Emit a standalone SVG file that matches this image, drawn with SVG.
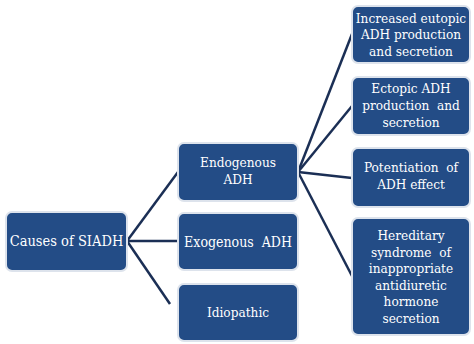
<svg xmlns="http://www.w3.org/2000/svg" width="474" height="344" viewBox="0 0 474 344">
<style>
.box{fill:#234c86;stroke:#dde3ec;stroke-width:2}
text{font-family:'DejaVu Serif Condensed','DejaVu Serif',serif;font-stretch:condensed;font-size:13.5px;fill:#ffffff;text-anchor:middle;dominant-baseline:central}
.big{font-size:14.5px}
.c{stroke:#1b2f55;stroke-width:2.5;fill:none}
</style>
<rect width="474" height="344" fill="#ffffff"/>
<g id="connectors">
<line class="c" x1="127" y1="241" x2="178" y2="172"/>
<line class="c" x1="127" y1="241" x2="178" y2="241"/>
<line class="c" x1="127" y1="241" x2="170" y2="304"/>
<line class="c" x1="298" y1="172" x2="352" y2="34"/>
<line class="c" x1="298" y1="172" x2="352" y2="106"/>
<line class="c" x1="298" y1="172" x2="352" y2="178"/>
<line class="c" x1="298" y1="172" x2="352" y2="276"/>
</g>
<g id="root">
<rect class="box" x="6" y="212" width="121" height="59" rx="6"/>
<text class="big" x="66.5" y="241">Causes of SIADH</text>
</g>
<g id="endogenous">
<rect class="box" x="178" y="143" width="120" height="58" rx="6"/>
<text x="238" y="162">Endogenous</text>
<text x="238" y="179">ADH</text>
</g>
<g id="exogenous">
<rect class="box" x="178" y="213" width="120" height="57" rx="6"/>
<text x="238" y="242" xml:space="preserve" style="font-size:14px">Exogenous  ADH</text>
</g>
<g id="idiopathic">
<rect class="box" x="178" y="284" width="120" height="57" rx="6"/>
<text x="238" y="312">Idiopathic</text>
</g>
<g id="eutopic">
<rect class="box" x="352" y="6" width="118" height="57" rx="6"/>
<text x="411" y="18">Increased eutopic</text>
<text x="411" y="34">ADH production</text>
<text x="411" y="51">and secretion</text>
</g>
<g id="ectopic">
<rect class="box" x="352" y="77" width="118" height="58" rx="6"/>
<text x="411" y="88">Ectopic ADH</text>
<text x="411" y="105" xml:space="preserve">production  and</text>
<text x="411" y="122">secretion</text>
</g>
<g id="potentiation">
<rect class="box" x="352" y="148" width="118" height="59" rx="6"/>
<text x="411" y="167" xml:space="preserve">Potentiation  of</text>
<text x="411" y="184">ADH effect</text>
</g>
<g id="hereditary">
<rect class="box" x="352" y="218" width="118" height="117" rx="6"/>
<text x="411" y="235">Hereditary</text>
<text x="411" y="252" xml:space="preserve">syndrome  of</text>
<text x="411" y="268">inappropriate</text>
<text x="411" y="285">antidiuretic</text>
<text x="411" y="301">hormone</text>
<text x="411" y="318">secretion</text>
</g>
</svg>
